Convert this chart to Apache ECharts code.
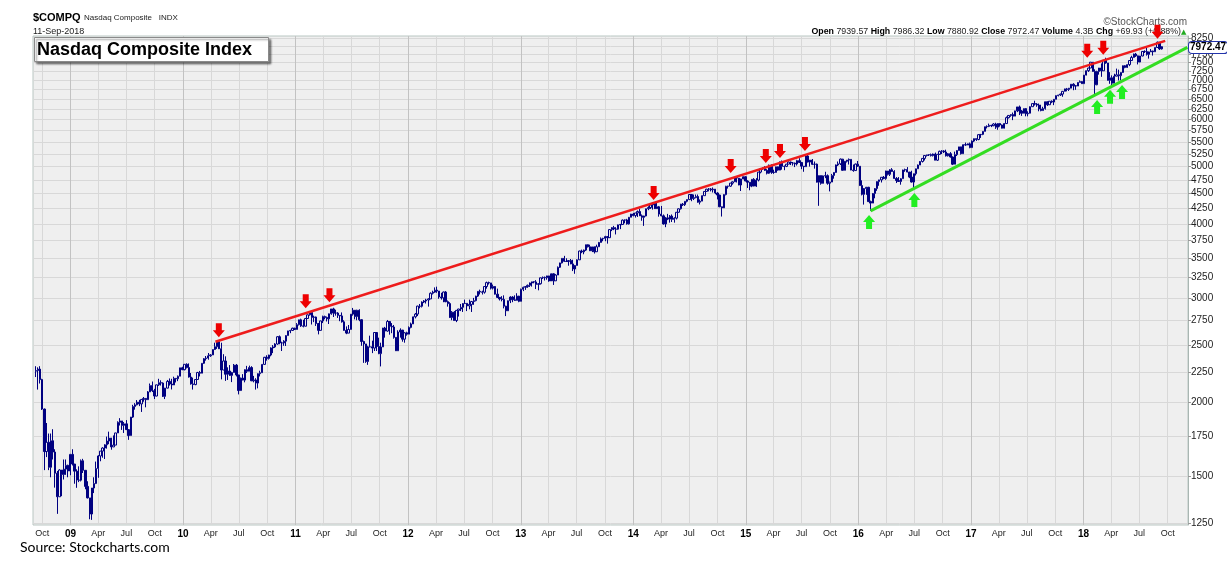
<!DOCTYPE html>
<html>
<head>
<meta charset="utf-8">
<title>Nasdaq Composite Index</title>
<script src="https://cdn.jsdelivr.net/npm/echarts@6/dist/echarts.min.js"></script>
<style>
html, body { margin: 0; padding: 0; background: #fff; }
#chart { width: 1227px; height: 581px; }
</style>
</head>
<body>
<div id="chart"></div>
<script>
// weekly bars, one entry per week: [high, low, close]
// open of each week = previous week's close
var firstOpen = 2256;
var y2008 = [[2300,2205,2261],[2290,2100,2274],[2300,2150,2183],[2190,1940,1947],[1950,1535,1650],[1844,1615,1711],[1770,1535,1552],[1770,1493,1721],[1800,1600,1647],[1665,1434,1517],[1530,1295,1384],[1540,1384,1536],[1535,1387,1509],[1600,1480,1541],[1600,1507,1564],[1568,1493,1530],[1635,1505,1632]];
var y2009 = [[1665,1563,1572],[1572,1456,1529],[1540,1433,1477],[1558,1465,1476],[1600,1469,1592],[1604,1518,1534],[1510,1425,1441],[1470,1375,1378],[1375,1268,1294],[1431,1265,1432],[1493,1404,1457],[1587,1454,1545],[1627,1490,1622],[1653,1589,1653],[1678,1611,1673],[1698,1603,1694],[1749,1669,1719],[1783,1698,1739],[1740,1662,1680],[1757,1680,1692],[1775,1697,1774],[1856,1781,1849],[1879,1826,1859],[1853,1795,1827],[1851,1774,1838],[1865,1796,1797],[1800,1727,1756],[1888,1756,1887],[1979,1881,1966],[1992,1942,1979],[2016,1975,2000],[2018,1969,1986],[2022,1925,2021],[2040,2003,2029],[2032,1960,2019],[2088,2017,2081],[2150,2080,2133],[2167,2080,2091],[2106,2024,2048],[2141,2046,2139],[2190,2130,2157],[2177,2133,2154],[2160,2040,2045],[2114,2024,2112],[2180,2110,2168],[2193,2133,2146],[2190,2101,2138],[2208,2140,2194],[2196,2159,2190],[2218,2170,2212],[2286,2215,2286],[2295,2265,2269]];
var y2010 = [[2317,2263,2317],[2326,2280,2288],[2325,2200,2205],[2240,2141,2147],[2200,2100,2141],[2186,2136,2184],[2250,2183,2244],[2258,2210,2238],[2327,2240,2326],[2374,2320,2368],[2393,2350,2374],[2421,2359,2395],[2410,2385,2403],[2455,2405,2454],[2520,2450,2481],[2535,2460,2530],[2535,2460,2461],[2520,2185,2266],[2410,2290,2347],[2390,2172,2229],[2290,2180,2257],[2310,2215,2219],[2250,2162,2244],[2320,2245,2310],[2320,2210,2223],[2215,2061,2092],[2200,2090,2196],[2230,2177,2179],[2272,2160,2269],[2303,2240,2255],[2305,2255,2288],[2300,2170,2173],[2215,2160,2180],[2195,2100,2154],[2237,2110,2234],[2260,2210,2242],[2320,2260,2316],[2385,2320,2381],[2400,2350,2371],[2405,2360,2402],[2475,2390,2469],[2497,2420,2479],[2515,2470,2507],[2585,2500,2579],[2592,2505,2518],[2530,2440,2518],[2545,2490,2535],[2595,2488,2591],[2640,2590,2638],[2650,2615,2643],[2672,2640,2666],[2671,2650,2653]];
var y2011 = [[2720,2660,2703],[2756,2695,2755],[2767,2680,2690],[2755,2675,2687],[2775,2690,2769],[2812,2765,2809],[2840,2800,2834],[2815,2705,2781],[2800,2730,2785],[2790,2690,2716],[2720,2603,2644],[2745,2655,2743],[2800,2720,2790],[2800,2760,2780],[2790,2737,2765],[2823,2710,2820],[2875,2810,2874],[2887,2785,2828],[2865,2800,2828],[2838,2775,2803],[2800,2740,2797],[2835,2725,2733],[2750,2640,2644],[2685,2605,2616],[2700,2620,2653],[2816,2655,2816],[2885,2800,2860],[2850,2760,2790],[2865,2750,2859],[2870,2740,2756],[2760,2490,2532],[2540,2330,2508],[2500,2330,2342],[2490,2312,2480],[2590,2475,2480],[2540,2420,2468],[2625,2440,2622],[2615,2440,2483],[2570,2410,2415],[2520,2298,2479],[2670,2490,2668],[2680,2570,2637],[2753,2630,2737],[2700,2600,2686],[2720,2615,2679],[2700,2560,2573],[2545,2441,2442],[2645,2480,2627],[2665,2570,2647],[2645,2530,2555],[2625,2520,2619],[2630,2590,2605]];
var y2012 = [[2685,2625,2674],[2725,2665,2711],[2790,2715,2787],[2829,2770,2817],[2910,2795,2906],[2930,2880,2904],[2960,2890,2952],[2975,2940,2964],[2990,2935,2976],[2995,2900,2988],[3065,2990,3055],[3085,3040,3068],[3125,3060,3092],[3134,3060,3081],[3060,2990,3011],[3060,2980,3000],[3075,2950,3069],[3080,2950,2956],[2970,2900,2934],[2950,2775,2779],[2850,2750,2838],[2850,2745,2747],[2860,2730,2858],[2875,2790,2873],[2930,2850,2892],[2940,2840,2935],[2980,2930,2937],[2935,2850,2908],[2980,2870,2925],[2965,2840,2958],[3000,2920,2968],[3025,2960,3021],[3080,3010,3077],[3098,3040,3070],[3085,3040,3067],[3140,3050,3136],[3196,3110,3184],[3196,3160,3180],[3180,3100,3116],[3160,3100,3136],[3140,3040,3044],[3110,3000,3006],[3010,2970,2988],[3020,2960,2982],[3030,2880,2905],[2910,2795,2853],[2970,2860,2967],[3020,2940,3010],[3020,2950,2978],[3030,2965,2971],[3055,2990,3021],[3025,2950,2960]];
var y2013 = [[3110,3000,3102],[3135,3080,3126],[3140,3095,3135],[3160,3120,3150],[3185,3130,3179],[3195,3135,3194],[3200,3175,3192],[3215,3105,3162],[3175,3090,3170],[3245,3160,3244],[3260,3230,3249],[3260,3210,3245],[3270,3220,3268],[3270,3195,3204],[3300,3205,3295],[3300,3155,3206],[3290,3215,3279],[3390,3280,3379],[3440,3370,3437],[3500,3430,3499],[3533,3450,3459],[3500,3450,3456],[3475,3400,3469],[3490,3420,3424],[3480,3330,3357],[3410,3295,3403],[3485,3410,3479],[3605,3490,3600],[3620,3570,3588],[3620,3555,3613],[3690,3600,3690],[3695,3650,3660],[3690,3600,3603],[3660,3585,3658],[3660,3565,3590],[3690,3600,3660],[3730,3680,3722],[3795,3720,3775],[3790,3740,3782],[3820,3740,3808],[3810,3705,3792],[3920,3790,3914],[3950,3890,3943],[3970,3905,3922],[3950,3840,3919],[3990,3910,3986],[4000,3920,3992],[4070,3990,4060],[4070,4010,4063],[4080,3990,4001],[4110,3990,4105],[4160,4110,4157]];
var y2014 = [[4175,4120,4132],[4175,4100,4175],[4215,4110,4198],[4245,4125,4128],[4150,4050,4104],[4130,3970,4126],[4245,4120,4244],[4285,4220,4263],[4335,4240,4308],[4355,4230,4336],[4340,4240,4245],[4340,4240,4277],[4290,4115,4156],[4290,4120,4128],[4150,3990,4000],[4110,3950,4096],[4160,4060,4076],[4140,4020,4124],[4150,4030,4072],[4105,4020,4091],[4190,4070,4186],[4250,4180,4243],[4325,4230,4321],[4340,4290,4311],[4370,4290,4368],[4400,4350,4398],[4490,4400,4486],[4475,4370,4415],[4485,4390,4432],[4486,4420,4450],[4485,4345,4353],[4400,4315,4371],[4470,4380,4465],[4540,4470,4539],[4585,4540,4580],[4600,4540,4583],[4600,4540,4568],[4610,4520,4580],[4580,4490,4512],[4525,4400,4476],[4480,4270,4276],[4280,4117,4258],[4490,4270,4484],[4640,4470,4631],[4640,4590,4633],[4690,4620,4689],[4720,4660,4713],[4795,4710,4792],[4810,4700,4781],[4780,4650,4654],[4770,4547,4765],[4815,4760,4807],[4815,4725,4727]];
var y2015 = [[4740,4600,4704],[4710,4560,4634],[4760,4615,4758],[4780,4630,4635],[4780,4620,4744],[4895,4720,4894],[4960,4870,4956],[4985,4935,4964],[5008,4915,4927],[4950,4850,4872],[5040,4860,5026],[5042,4860,4891],[4940,4860,4887],[5000,4890,4996],[5000,4920,4932],[5100,4930,5092],[5120,4940,5005],[5020,4930,5004],[5050,4990,5048],[5100,5050,5089],[5100,5030,5070],[5090,5020,5068],[5080,4990,5051],[5133,5020,5117],[5165,5075,5081],[5080,4950,5009],[5010,4900,4998],[5215,5000,5210],[5231,5080,5089],[5130,5000,5128],[5150,5030,5044],[5100,4960,5048],[5060,4700,4706],[4830,4292,4828],[4790,4660,4684],[4830,4700,4822],[4900,4780,4827],[4850,4660,4687],[4710,4540,4708],[4860,4710,4830],[4890,4770,4887],[5040,4880,5032],[5100,5010,5054],[5160,5030,5147],[5140,4925,4928],[5110,4930,5105],[5130,5080,5128],[5160,5040,5142],[5100,4930,4933],[5040,4900,4923],[5060,4925,5048],[5110,5000,5007]];
var y2016 = [[5007,4640,4644],[4740,4470,4488],[4600,4313,4591],[4620,4480,4614],[4620,4360,4363],[4380,4209,4338],[4510,4360,4504],[4600,4420,4590],[4720,4550,4717],[4750,4640,4748],[4800,4700,4796],[4820,4760,4774],[4920,4750,4915],[4915,4830,4851],[4950,4820,4938],[4970,4900,4906],[4930,4770,4775],[4800,4690,4736],[4800,4710,4718],[4780,4660,4770],[4940,4770,4934],[4960,4900,4943],[4990,4890,4895],[4880,4780,4800],[4920,4700,4708],[4865,4575,4863],[4960,4830,4957],[5040,4960,5030],[5110,5030,5100],[5165,5080,5162],[5225,5120,5221],[5235,5200,5233],[5245,5210,5238],[5260,5200,5219],[5260,5200,5250],[5280,5125,5126],[5250,5110,5245],[5320,5230,5306],[5330,5250,5312],[5330,5270,5292],[5340,5200,5214],[5270,5200,5257],[5290,5180,5190],[5200,5030,5046],[5300,5050,5237],[5330,5210,5322],[5400,5330,5399],[5400,5240,5256],[5450,5270,5445],[5490,5420,5437],[5470,5440,5463],[5490,5370,5383]];
var y2017 = [[5536,5400,5521],[5577,5500,5574],[5580,5525,5555],[5670,5540,5661],[5670,5590,5667],[5740,5650,5734],[5840,5740,5839],[5870,5800,5845],[5910,5830,5871],[5880,5830,5862],[5920,5850,5901],[5930,5790,5829],[5920,5770,5912],[5920,5840,5878],[5890,5800,5805],[5920,5800,5911],[6075,5960,6048],[6105,6030,6101],[6130,6070,6121],[6170,5990,6084],[6215,6100,6210],[6310,6180,6306],[6340,6110,6208],[6230,6090,6152],[6270,6190,6265],[6280,6080,6140],[6200,6080,6153],[6320,6150,6312],[6390,6310,6388],[6460,6340,6375],[6400,6310,6352],[6390,6200,6257],[6360,6200,6217],[6310,6220,6266],[6440,6240,6435],[6420,6330,6360],[6450,6370,6448],[6470,6400,6427],[6500,6350,6496],[6595,6500,6590],[6610,6570,6606],[6640,6580,6629],[6710,6560,6701],[6770,6700,6764],[6790,6700,6751],[6790,6710,6783],[6890,6780,6889],[6915,6730,6848],[6850,6740,6840],[6940,6850,6937],[6990,6950,6960],[6970,6900,6903]];
var y2018 = [[7140,6945,7137],[7265,7130,7261],[7345,7225,7336],[7506,7340,7506],[7510,7235,7241],[7300,6630,6874],[7260,6860,7239],[7340,7150,7337],[7470,7090,7258],[7565,7260,7561],[7637,7460,7482],[7470,6990,6993],[7220,6900,7063],[7130,6806,6915],[7175,6930,7107],[7320,7120,7146],[7290,6990,7120],[7215,6990,7210],[7410,7200,7403],[7420,7330,7354],[7440,7340,7434],[7560,7390,7554],[7695,7570,7646],[7760,7640,7746],[7780,7660,7693],[7700,7440,7510],[7690,7500,7688],[7830,7680,7826],[7860,7780,7820],[7933,7700,7737],[7820,7610,7812],[7900,7810,7839],[7850,7700,7816],[7950,7830,7946],[8133,7960,8110],[8110,7870,7903],[7986,7881,7972]];

// first week (mid-week date) of each block
var blocks = [
    ['2008-09-10', y2008], ['2009-01-07', y2009], ['2010-01-06', y2010],
    ['2011-01-05', y2011], ['2012-01-04', y2012], ['2013-01-02', y2013],
    ['2014-01-01', y2014], ['2015-01-07', y2015], ['2016-01-06', y2016],
    ['2017-01-04', y2017], ['2018-01-03', y2018]
];

var yTicks = [1250,1500,1750,2000,2250,2500,2750,3000,3250,3500,3750,4000,4250,4500,4750,5000,5250,5500,5750,6000,6250,6500,6750,7000,7250,7500,7750,8000,8250];
var yLabels = [1250,1500,1750,2000,2250,2500,2750,3000,3250,3500,3750,4000,4250,4500,4750,5000,5250,5500,5750,6000,6250,6500,6750,7000,7250,7500,7750,8250];
var quarterNames = ['Jan', 'Apr', 'Jul', 'Oct'];
var tickYears = [2008,2009,2010,2011,2012,2013,2014,2015,2016,2017,2018];

var redLine = [['2010-04-16', 2530], ['2018-09-23', 8154]];
var greenLine = [['2016-02-10', 4209], ['2018-12-04', 7950]];
var redArrows = [['2010-04-27', 2574], ['2011-02-03', 2881], ['2011-04-21', 2950], ['2014-03-08', 4389], ['2014-11-13', 4877], ['2015-03-07', 5070], ['2015-04-22', 5170], ['2015-07-12', 5312], ['2018-01-13', 7633], ['2018-03-06', 7722], ['2018-08-29', 8218]];
var greenArrows = [['2016-02-05', 4140], ['2016-07-01', 4510], ['2018-02-14', 6480], ['2018-03-28', 6739], ['2018-05-06', 6871]];

var quote = { open: '7939.57', high: '7986.32', low: '7880.92', close: '7972.47', volume: '4.3B', chg: '+69.93 (+0.88%)' };

var lg = Math.log10;
function t(s) { return Date.parse(s + 'T00:00:00Z'); }
var DAY = 86400000;

// candles: [time, open, close, low, high] on a log10 value scale
var candles = [];
var prev = firstOpen;
blocks.forEach(function (b) {
    var start = t(b[0]);
    b[1].forEach(function (w, i) {
        var o = prev, h = Math.max(w[0], o, w[2]), l = Math.min(w[1], o, w[2]), c = w[2];
        candles.push([start + i * 7 * DAY, lg(o), lg(c), lg(l), lg(h)]);
        prev = c;
    });
});

var quarterTicks = [];
tickYears.forEach(function (y) {
    [0, 3, 6, 9].forEach(function (m) {
        var v = Date.UTC(y, m, 1);
        if (v >= Date.UTC(2008, 9, 1) && v <= Date.UTC(2018, 9, 1)) quarterTicks.push(v);
    });
});

var downArrow = 'path://M3,0 L9,0 L9,7 L12,7 L6,14 L0,7 L3,7 Z';
var upArrow = 'path://M6,0 L12,7 L9,7 L9,14 L3,14 L3,7 L0,7 Z';

var markLineData = [
    [{ coord: [t(redLine[0][0]), lg(redLine[0][1])], lineStyle: { color: '#ee1c1c', width: 2.6, type: 'solid' } },
     { coord: [t(redLine[1][0]), lg(redLine[1][1])] }],
    [{ coord: [t(greenLine[0][0]), lg(greenLine[0][1])], lineStyle: { color: '#33dd22', width: 3, type: 'solid' } },
     { coord: [t(greenLine[1][0]), lg(greenLine[1][1])] }],
    {
        yAxis: lg(parseFloat(quote.close)),
        lineStyle: { color: 'rgba(0,0,0,0)', width: 0 },
        label: {
            show: true, position: 'end', distance: 1, formatter: quote.close,
            backgroundColor: '#fff', borderColor: '#2233aa', borderWidth: 1, borderRadius: 3,
            padding: [1, 1, 0, 1], fontFamily: 'Liberation Sans', fontWeight: 'bold', fontSize: 10, color: '#000'
        }
    }
];

var markPointData = [];
redArrows.forEach(function (a) {
    markPointData.push({ coord: [t(a[0]), lg(a[1])], symbol: downArrow, symbolSize: [12, 14], symbolOffset: [0, '-50%'], itemStyle: { color: '#ee0000' } });
});
greenArrows.forEach(function (a) {
    markPointData.push({ coord: [t(a[0]), lg(a[1])], symbol: upArrow, symbolSize: [12, 14], symbolOffset: [0, '50%'], itemStyle: { color: '#22ee22' } });
});

var chart = echarts.init(document.getElementById('chart'));
chart.setOption({
    animation: false,
    backgroundColor: '#fff',
    textStyle: { fontFamily: 'Liberation Sans' },
    title: {
        text: 'Nasdaq Composite Index',
        left: 34, top: 37,
        padding: [3, 17, 2, 3],
        backgroundColor: '#fff',
        borderColor: '#8a8a8a', borderWidth: 1,
        shadowColor: 'rgba(0,0,0,0.45)', shadowBlur: 2, shadowOffsetX: 2, shadowOffsetY: 2,
        textStyle: { fontFamily: 'Liberation Sans', fontWeight: 'bold', fontSize: 18, color: '#000', lineHeight: 20 }
    },
    graphic: [
        {
            type: 'text', left: 33, top: 12,
            style: {
                text: '{a|$COMPQ} {b|Nasdaq Composite}  {c|INDX}',
                rich: {
                    a: { fontFamily: 'Liberation Sans', fontWeight: 'bold', fontSize: 11, fill: '#000' },
                    b: { fontFamily: 'Liberation Sans', fontSize: 8, fill: '#222' },
                    c: { fontFamily: 'Liberation Sans', fontSize: 8, fill: '#222' }
                }
            }
        },
        { type: 'text', left: 33, top: 27, style: { text: '11-Sep-2018', font: '9px "Liberation Sans"', fill: '#222' } },
        { type: 'text', right: 40, top: 17, style: { text: '\u00a9StockCharts.com', font: '10px "Liberation Sans"', fill: '#555' } },
        {
            type: 'text', right: 46, top: 27,
            style: {
                text: '{k|Open} ' + quote.open + ' {k|High} ' + quote.high + ' {k|Low} ' + quote.low +
                      ' {k|Close} ' + quote.close + ' {k|Volume} ' + quote.volume + ' {k|Chg} ' + quote.chg,
                font: '8.8px "Liberation Sans"', fill: '#222',
                rich: { k: { fontFamily: 'Liberation Sans', fontWeight: 'bold', fontSize: 8.8, fill: '#000' } }
            }
        },
        { type: 'text', left: 1181, top: 29, style: { text: '\u25b2', font: '7px "DejaVu Sans"', fill: '#22aa22' } },
        { type: 'text', left: 20, top: 540, style: { text: 'Source: Stockcharts.com', font: '14px Lato', fill: '#000' } }
    ],
    grid: {
        left: 33, right: 39, top: 36, bottom: 56,
        show: true, backgroundColor: '#efefef', borderColor: '#b9c6c2', borderWidth: 1
    },
    xAxis: {
        type: 'value',
        min: Date.UTC(2008, 8, 1),
        max: Date.UTC(2018, 11, 6),
        axisLine: { show: false },
        axisTick: { show: false, customValues: quarterTicks },
        axisLabel: {
            customValues: quarterTicks,
            margin: 4,
            fontSize: 9,
            color: '#222',
            formatter: function (v) {
                var d = new Date(v);
                var m = d.getUTCMonth();
                if (m === 0) return '{y|' + String(d.getUTCFullYear()).slice(2) + '}';
                return quarterNames[m / 3];
            },
            rich: { y: { fontWeight: 'bold', fontSize: 10, color: '#000' } }
        },
        splitLine: { show: true, lineStyle: { color: ['#d8d8d8', '#c2c2c2', '#d8d8d8', '#d8d8d8'], width: 1 } }
    },
    yAxis: {
        type: 'value',
        position: 'right',
        min: lg(1240),
        max: lg(8310),
        axisLine: { show: true, lineStyle: { color: '#a9b6b2' } },
        axisTick: { show: true, customValues: yTicks.map(lg), length: 3, lineStyle: { color: '#999' } },
        axisLabel: {
            customValues: yLabels.map(lg),
            margin: 3,
            fontSize: 10,
            color: '#222',
            formatter: function (v) { return String(Math.round(Math.pow(10, v))); }
        },
        splitLine: { show: true, lineStyle: { color: '#d8d8d8' } }
    },
    series: [{
        type: 'candlestick',
        data: candles,
        encode: { x: 0, y: [1, 2, 3, 4] },
        barWidth: 1.8,
        itemStyle: {
            color: 'rgba(0,0,0,0)', color0: '#000080',
            borderColor: '#000080', borderColor0: '#000080', borderWidth: 1
        },
        markLine: { silent: true, symbol: ['none', 'none'], label: { show: false }, data: markLineData },
        markPoint: { silent: true, label: { show: false }, data: markPointData }
    }]
});
</script>
</body>
</html>
